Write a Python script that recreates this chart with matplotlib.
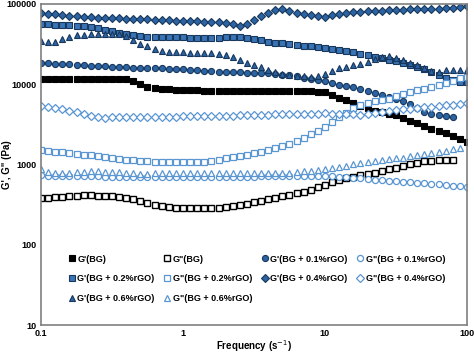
import matplotlib
matplotlib.use('Agg')
import matplotlib.pyplot as plt

plt.rcParams['font.family'] = ['Liberation Sans Narrow', 'Liberation Sans', 'DejaVu Sans']

# frequency grid (s^-1)
freq = [0.1, 0.112, 0.126, 0.141, 0.158, 0.178, 0.2, 0.224, 0.251, 0.282,
        0.316, 0.355, 0.398, 0.447, 0.501, 0.562, 0.631, 0.708, 0.794, 0.891,
        1.0, 1.12, 1.26, 1.41, 1.58, 1.78, 2.0, 2.24, 2.51, 2.82,
        3.16, 3.55, 3.98, 4.47, 5.01, 5.62, 6.31, 7.08, 7.94, 8.91,
        10, 11.2, 12.6, 14.1, 15.8, 17.8, 20, 22.4, 25.1, 28.2,
        31.6, 35.5, 39.8, 44.7, 50.1, 56.2, 63.1, 70.8, 79.4, 89.1, 100]

gp_bg = [11600, 11700, 11600, 11600, 11700, 11600, 11600, 11700, 11600, 11600,
         11600, 11600, 11500, 11000, 10000, 9300, 8900, 8700, 8600, 8500,
         8400, 8400, 8400, 8300, 8300, 8300, 8300, 8300, 8300, 8300,
         8300, 8300, 8300, 8300, 8300, 8200, 8200, 8200, 8200, 8100,
         8000, 7400, 6800, 6300, 5800, 5400, 5000, 4700, 4450, 4250,
         4100, 3800, 3500, 3250, 3000, 2800, 2600, 2450, 2250, 2050, 1900]

gpp_bg = [380, 385, 390, 395, 400, 410, 415, 415, 410, 405,
          400, 395, 385, 375, 355, 335, 310, 300, 295, 290,
          288, 288, 288, 288, 288, 288, 292, 300, 310, 325,
          340, 355, 370, 385, 400, 420, 440, 460, 480, 520,
          560, 600, 640, 670, 700, 730, 760, 790, 830, 870,
          910, 960, 1010, 1050, 1090, 1120, 1140, 1150, 1150]

gp_01 = [18500, 18300, 18000, 17800, 17600, 17400, 17200, 17000, 16900, 16700,
         16500, 16400, 16200, 16100, 16000, 15900, 15800, 15700, 15600, 15500,
         15400, 15200, 15000, 14800, 14500, 14300, 14200, 14100, 14000, 13900,
         13800, 13700, 13600, 13400, 13200, 12900, 12500, 12100, 11700, 11300,
         10900, 10400, 9900, 9500, 9100, 8700, 8200, 7800, 7300, 6900,
         6500, 6100, 5700, 5000, 4500, 4300, 4100, 4000, 3900]

gpp_01 = [730, 725, 720, 720, 715, 715, 710, 710, 710, 705,
          705, 705, 705, 700, 700, 700, 700, 700, 700, 700,
          700, 700, 700, 700, 700, 700, 700, 700, 700, 705,
          705, 710, 710, 715, 715, 720, 720, 720, 720, 715,
          715, 710, 700, 690, 680, 670, 660, 650, 640, 630,
          620, 610, 600, 590, 580, 575, 565, 555, 545, 535, 525]

gp_02 = [56000, 55500, 55000, 54500, 54000, 53000, 52500, 51500, 49500, 47500,
         45500, 43500, 42000, 40500, 39500, 39000, 38500, 38500, 38500, 38500,
         38500, 38000, 38000, 38000, 38000, 38000, 38500, 38500, 38500, 38000,
         36500, 35000, 34000, 33000, 32200, 31500, 30800, 30200, 29700, 29200,
         28500, 27500, 26500, 25700, 25000, 23800, 22800, 21800, 21000, 20200,
         19300, 18500, 17500, 16500, 15500, 14200, 13000, 11800, 11200, 10800, 10600]

gpp_02 = [1520, 1480, 1450, 1420, 1390, 1360, 1330, 1300, 1270, 1240,
          1210, 1180, 1150, 1130, 1110, 1090, 1080, 1070, 1070, 1070,
          1070, 1070, 1070, 1080, 1110, 1150, 1190, 1230, 1270, 1320,
          1380, 1440, 1510, 1600, 1700, 1820, 1950, 2150, 2400, 2650,
          2950, 3400, 3900, 4400, 5000, 5500, 5850, 6100, 6300, 6600,
          7100, 7600, 8000, 8400, 8800, 9300, 9800, 10300, 11000, 11800, 12300]

gp_04 = [77000, 75500, 74000, 72500, 71000, 70000, 69000, 68000, 67500, 67000,
         66500, 66000, 65500, 65000, 64500, 64000, 63500, 63000, 62500, 62000,
         61500, 61000, 60500, 60000, 60000, 59500, 58500, 56500, 53500, 56000,
         63000, 70000, 78000, 85000, 87000, 82000, 78000, 75000, 73000, 71000,
         69500, 73000, 75500, 77000, 78500, 79500, 80500, 81500, 82500, 83500,
         84000, 85000, 85500, 86000, 86500, 87000, 87500, 88500, 90000, 92000, 94000]

gpp_04 = [5400, 5200, 5000, 4850, 4650, 4450, 4250, 4050, 3900, 3800,
          3850, 3900, 3950, 3950, 3950, 3950, 3950, 3950, 3950, 3950,
          4000, 4000, 4000, 4000, 4000, 4000, 4050, 4050, 4100, 4100,
          4100, 4150, 4150, 4200, 4200, 4250, 4250, 4250, 4300, 4300,
          4350, 4300, 4300, 4250, 4200, 4150, 4200, 4350, 4500, 4650,
          4750, 4850, 4950, 5050, 5150, 5250, 5350, 5450, 5550, 5700, 5850]

gp_06 = [34500, 34000, 33500, 36500, 39000, 40500, 41500, 42000, 42500, 42500,
         42500, 42000, 40000, 36000, 32000, 29500, 27500, 26000, 25500, 25200,
         25000, 24800, 24600, 24400, 24200, 23800, 22800, 21500, 19800, 18500,
         17500, 16500, 15000, 14000, 13300, 13000, 12700, 12500, 12300, 12500,
         13300, 14500, 15800, 16500, 17200, 18000, 18800, 20500, 21500, 22500,
         21000, 19800, 18500, 17200, 16000, 14800, 14200, 15000, 15100, 15100, 15100]

gpp_06 = [880, 800, 780, 780, 790, 800, 810, 820, 820, 810,
          800, 800, 790, 780, 770, 770, 780, 780, 780, 780,
          780, 780, 780, 780, 780, 780, 780, 780, 780, 780,
          780, 780, 780, 780, 780, 790, 800, 820, 840, 860,
          880, 910, 940, 970, 1000, 1030, 1070, 1100, 1130, 1160,
          1190, 1220, 1260, 1300, 1340, 1380, 1430, 1480, 1540, 1600]

dark_fill = '#2C63A2'
dark_edge = '#17375C'
light = '#5A96D2'

fig = plt.figure(figsize=(4.74, 3.53), dpi=100)
ax = fig.add_axes([0.0865, 0.079, 0.8985, 0.910])

def series(vals, marker, label, fill, edge, ms=4.4, mew=0.8):
    h, = ax.plot(freq[:len(vals)], vals, linestyle='none', marker=marker,
                 markersize=ms, markerfacecolor=fill, markeredgecolor=edge,
                 markeredgewidth=mew, label=label)
    return h

h1 = series(gp_bg, 's', "G'(BG)", 'black', 'black')
h2 = series(gpp_bg, 's', 'G"(BG)', 'white', 'black', mew=1.0)
h3 = series(gp_01, 'o', "G'(BG + 0.1%rGO)", dark_fill, dark_edge)
h4 = series(gpp_01, 'o', 'G"(BG + 0.1%rGO)', 'white', light, mew=0.9)
h5 = series(gp_02, 's', "G'(BG + 0.2%rGO)", '#3A74B4', dark_edge)
h6 = series(gpp_02, 's', 'G"(BG + 0.2%rGO)', 'white', light, mew=0.9)
h7 = series(gp_04, 'D', "G'(BG + 0.4%rGO)", dark_fill, dark_edge, ms=3.6)
h8 = series(gpp_04, 'D', 'G"(BG + 0.4%rGO)', 'white', light, ms=3.6, mew=0.9)
h9 = series(gp_06, '^', "G'(BG + 0.6%rGO)", dark_fill, dark_edge, ms=4.6)
h10 = series(gpp_06, '^', 'G"(BG + 0.6%rGO)', 'white', light, ms=4.6, mew=0.9)

ax.set_xscale('log')
ax.set_yscale('log')
ax.set_xlim(0.1, 100)
ax.set_ylim(10, 100000)
ax.set_xticks([0.1, 1, 10, 100])
ax.set_xticklabels(['0.1', '1', '10', '100'])
ax.set_yticks([10, 100, 1000, 10000, 100000])
ax.set_yticklabels(['10', '100', '1000', '10000', '100000'])
ax.minorticks_off()
ax.tick_params(length=0, labelsize=6.5, pad=3)
for lab in ax.get_xticklabels() + ax.get_yticklabels():
    lab.set_fontweight('bold')
for sp in ax.spines.values():
    sp.set_color('#7f7f7f')
    sp.set_linewidth(1.2)

ax.set_xlabel('Frequency (s$^{-1}$)', fontsize=7, fontweight='bold')
ax.xaxis.set_label_coords(0.5, -0.042)
ax.set_ylabel('G\', G" (Pa)', fontsize=7, fontweight='bold')
ax.yaxis.set_label_coords(-0.068, 0.5)

handles = [h1, h5, h9, h2, h6, h10, h3, h7, h4, h8]
leg = ax.legend(handles=handles, ncol=4, frameon=False, loc='upper left',
                bbox_to_anchor=(0.045, 0.245), fontsize=6.5, handlelength=0.8,
                handletextpad=0.2, columnspacing=1.0, labelspacing=1.2)
for t in leg.get_texts():
    t.set_fontweight('bold')

fig.savefig('out.png', dpi=100)
